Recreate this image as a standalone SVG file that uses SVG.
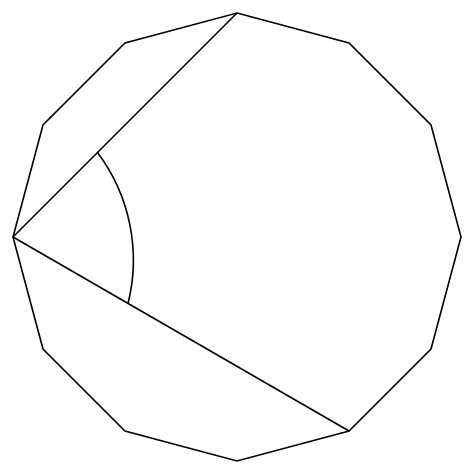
<svg xmlns="http://www.w3.org/2000/svg" width="474" height="474" viewBox="0 0 474 474">
<style>
.s{fill:none;stroke:#000;stroke-width:1.6;stroke-linejoin:miter}
</style>
<rect width="474" height="474" fill="#fff"/>
<g id="dodecagon">
<polygon class="s" points="237,13 349,43 431,125 461,237 431,349 349,431 237,461 125,431 43,349 13,237 43,125 125,43"/>
</g>
<g id="connectors">
<line class="s" x1="13" y1="237" x2="237" y2="13"/>
<line class="s" x1="13" y1="237" x2="349" y2="431"/>
<path class="s" d="M97.5,152.5 A179,179 0 0 1 128,303.5"/>
</g>
</svg>
